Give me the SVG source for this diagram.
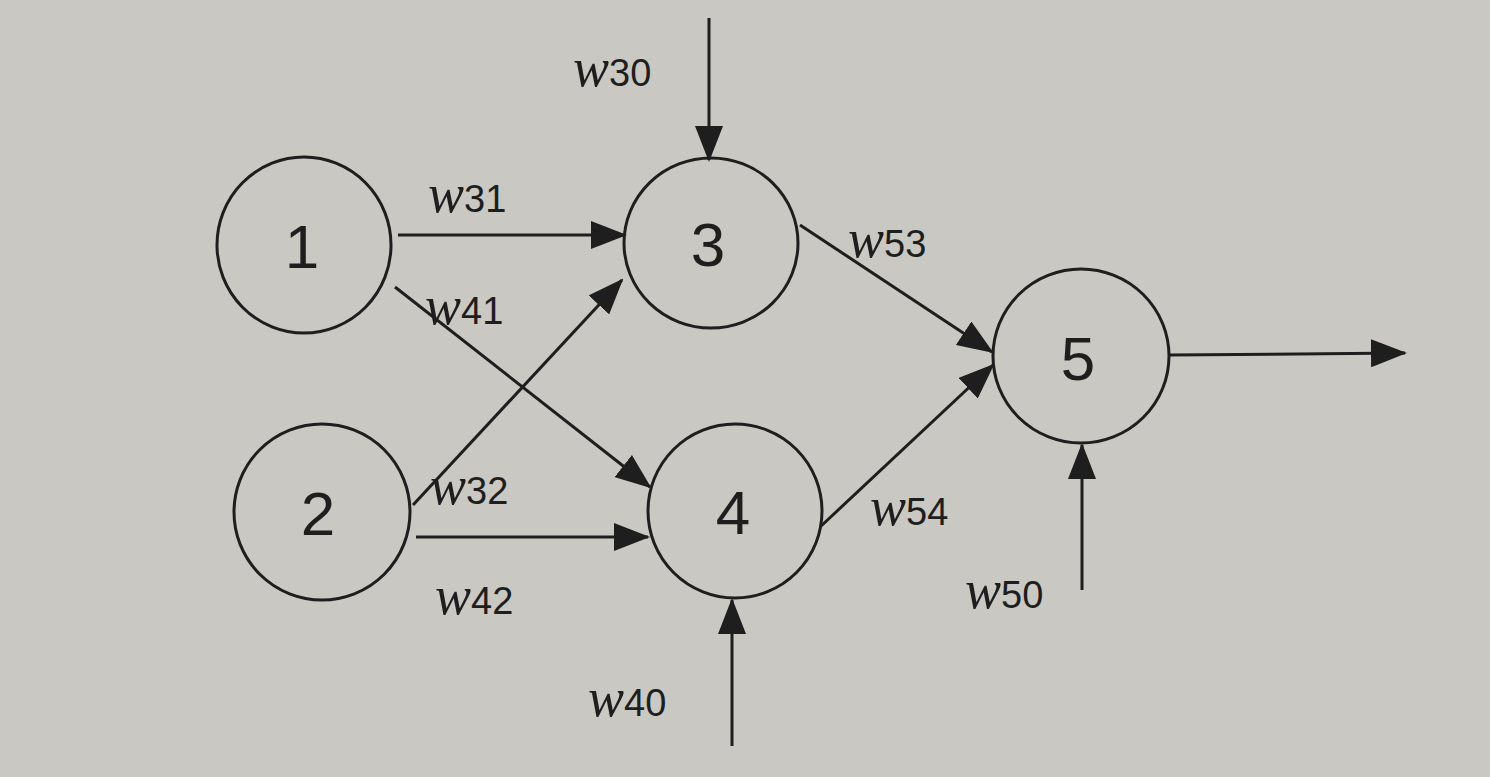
<svg xmlns="http://www.w3.org/2000/svg" width="1490" height="777" viewBox="0 0 1490 777">
<style>
.n{fill:none;stroke:#1e1e1e;stroke-width:3}
.t{font-family:"Liberation Sans",sans-serif;font-size:62px;fill:#1e1e1e;text-anchor:middle}
.c{stroke:#1e1e1e;stroke-width:3;fill:none;marker-end:url(#a)}
.w{font-family:"Liberation Serif",serif;font-style:italic;font-size:54px;fill:#1e1e1e}
.s{font-family:"Liberation Sans",sans-serif;font-style:normal;font-size:38px}
</style>
<defs><marker id="a" markerWidth="12" markerHeight="10" refX="11" refY="5" orient="auto" markerUnits="userSpaceOnUse" viewBox="0 0 12 10"><path d="M0,0L12,5L0,10Z" fill="#1e1e1e" transform="scale(1)"/></marker>
<marker id="b" markerWidth="36" markerHeight="28" refX="34" refY="14" orient="auto" markerUnits="userSpaceOnUse"><path d="M0,0L36,14L0,28Z" fill="#1e1e1e"/></marker></defs>
<rect width="1490" height="777" fill="#c9c8c3"/>
<g id="connectors" style="marker-end:url(#b)">
<path class="c" style="marker-end:url(#b)" d="M398,235H625"/>
<path class="c" style="marker-end:url(#b)" d="M395,287L650,487"/>
<path class="c" style="marker-end:url(#b)" d="M413,505L622,280"/>
<path class="c" style="marker-end:url(#b)" d="M416,537H648"/>
<path class="c" style="marker-end:url(#b)" d="M800,225L992,352"/>
<path class="c" style="marker-end:url(#b)" d="M820,527L993,365"/>
<path class="c" style="marker-end:url(#b)" d="M1170,355L1405,353"/>
<path class="c" style="marker-end:url(#b)" d="M709,18V160"/>
<path class="c" style="marker-end:url(#b)" d="M732,746V600"/>
<path class="c" style="marker-end:url(#b)" d="M1082,590V445"/>
</g>
<g id="n1"><ellipse class="n" cx="304" cy="245" rx="87" ry="88"/><text class="t" x="302" y="268">1</text></g>
<g id="n2"><ellipse class="n" cx="322" cy="512" rx="88" ry="88"/><text class="t" x="318" y="535">2</text></g>
<g id="n3"><ellipse class="n" cx="711" cy="243" rx="87" ry="85"/><text class="t" x="708" y="266">3</text></g>
<g id="n4"><ellipse class="n" cx="735" cy="511" rx="87" ry="87"/><text class="t" x="733" y="534">4</text></g>
<g id="n5"><ellipse class="n" cx="1081" cy="356" rx="88" ry="87"/><text class="t" x="1078" y="380">5</text></g>
<g id="labels">
<text class="w" x="573" y="86">w<tspan class="s">30</tspan></text>
<text class="w" x="428" y="212">w<tspan class="s">31</tspan></text>
<text class="w" x="425" y="324">w<tspan class="s">41</tspan></text>
<text class="w" x="430" y="504">w<tspan class="s">32</tspan></text>
<text class="w" x="435" y="614">w<tspan class="s">42</tspan></text>
<text class="w" x="848" y="257">w<tspan class="s">53</tspan></text>
<text class="w" x="870" y="525">w<tspan class="s">54</tspan></text>
<text class="w" x="965" y="608">w<tspan class="s">50</tspan></text>
<text class="w" x="588" y="716">w<tspan class="s">40</tspan></text>
</g>
</svg>
